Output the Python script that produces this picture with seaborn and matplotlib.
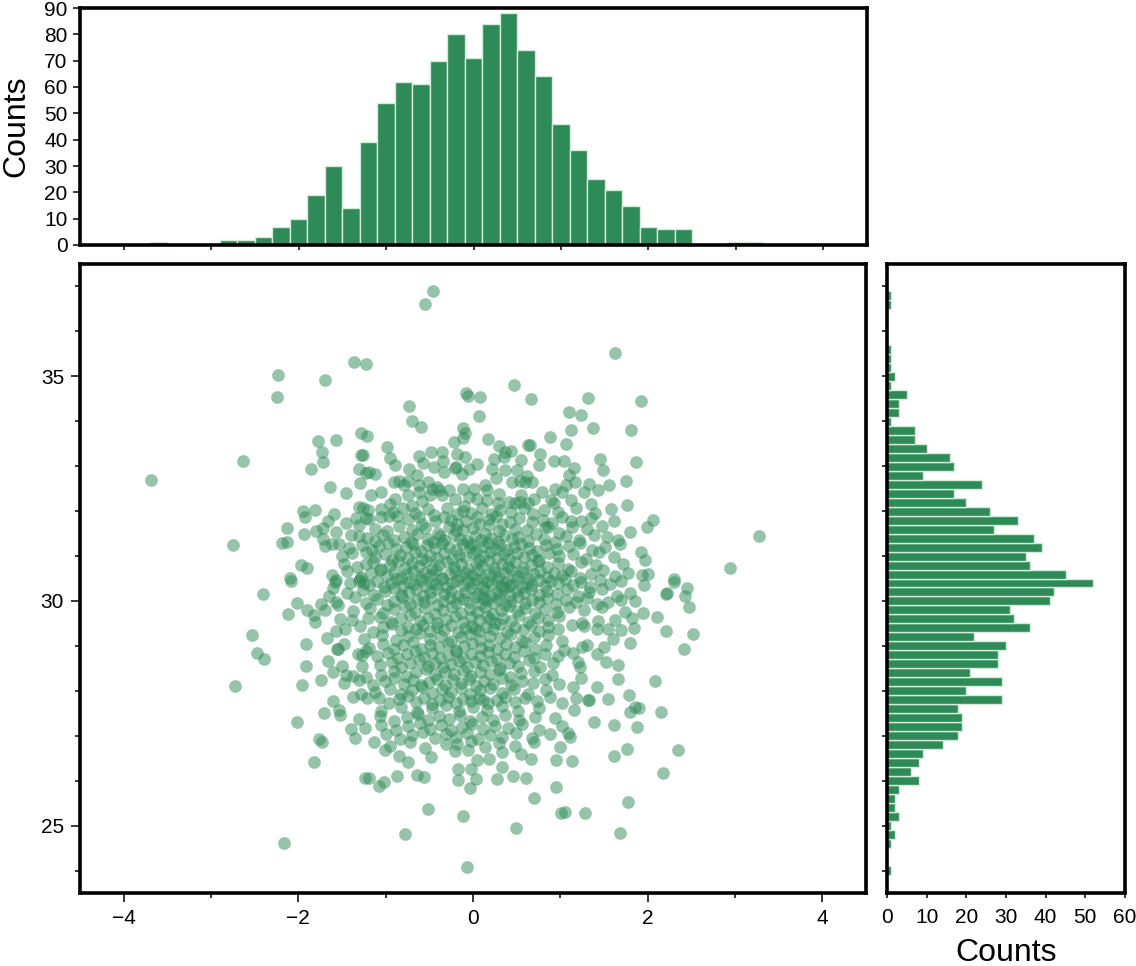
import numpy as np
import pandas as pd
import matplotlib.pyplot as plt
from matplotlib.ticker import MultipleLocator
import seaborn as sns

GREEN = "#2e8b57"
BAR_EDGE = "#d6ebde"

# top histogram: counts per 0.2 bin, bin centres -3.6 .. 3.2
x_counts = [1, 0, 0, 0, 2, 2, 3, 7, 10, 19,
            30, 14, 39, 54, 62, 61, 70, 80, 71, 84,
            88, 74, 64, 46, 36, 25, 21, 15, 7, 6,
            6, 0, 0, 1, 1]

# right histogram: counts per 0.2 bin, bin centres 24.0 .. 36.8
y_counts = [1, 0, 0, 1, 2, 1, 3, 2, 2, 3,
            8, 6, 8, 9, 14, 18, 19, 19, 18, 29,
            20, 29, 21, 28, 28, 30, 22, 36, 32, 31,
            41, 42, 52, 45, 36, 35, 39, 37, 27, 33,
            26, 20, 17, 24, 9, 17, 16, 10, 7, 7,
            1, 3, 3, 5, 1, 2, 1, 1, 1, 0,
            0, 0, 0, 1, 1]

# scatter points (x, y), read band by band from the top
points = [
    (-0.46, 36.89), (-0.55, 36.60), (1.63, 35.52), (-1.36, 35.31), (-1.23, 35.28), (-2.23, 35.03), (-1.69, 34.92), (0.47, 34.80),
    (-2.25, 34.53), (-0.08, 34.62), (-0.06, 34.57), (0.08, 34.55), (1.32, 34.52),
    (0.66, 34.49), (1.92, 34.45), (-0.73, 34.34), (0.07, 34.12), (1.10, 34.20), (1.24, 34.13), (-0.70, 34.01),
    (-0.59, 33.87), (1.12, 33.80), (1.37, 33.85), (1.81, 33.81), (-0.11, 33.84), (-1.28, 33.74), (-0.09, 33.74),
    (-1.21, 33.68), (-0.11, 33.62), (0.17, 33.61), (0.88, 33.66), (-1.78, 33.55), (-1.57, 33.58), (-0.22, 33.53),
    (0.63, 33.48), (0.65, 33.47), (1.07, 33.50), (-0.98, 33.42), (0.30, 33.46), (-0.48, 33.32), (-0.35, 33.32), (-1.73, 33.32), (0.37, 33.31), (0.43, 33.33),
    (-1.28, 33.25), (-1.26, 33.24), (-0.18, 33.27), (-0.09, 33.20), (0.35, 33.20), (0.77, 33.26), (0.93, 33.12), (1.04, 33.11),
    (-2.63, 33.12), (-0.34, 33.12), (0.24, 33.16), (1.87, 33.10), (-0.95, 33.18), (-0.62, 33.22), (0.55, 33.14), (1.45, 33.17),
    (-1.72, 33.09), (-1.86, 32.94), (-1.30, 32.94), (-0.73, 32.94), (-0.57, 33.06), (-0.89, 33.02), (-0.20, 32.99), (-0.21, 32.96),
    (-0.05, 32.94), (0.22, 32.94), (0.37, 32.92), (0.50, 32.91), (1.16, 32.96), (1.49, 32.92), (0.75, 33.03), (-0.45, 32.98), (0.05, 33.05),
    (-1.23, 32.85), (-1.19, 32.87), (-1.12, 32.82), (-0.64, 32.81), (-0.33, 32.88), (-0.13, 32.83), (0.26, 32.73), (1.10, 32.80), (0.62, 32.78),
    (-3.69, 32.69), (-1.29, 32.63), (-1.64, 32.53), (1.75, 32.67), (-0.91, 32.64), (-0.85, 32.68), (-0.79, 32.57), (-0.75, 32.68),
    (-0.62, 32.57), (-0.51, 32.64), (-0.47, 32.50), (-0.41, 32.53), (-0.11, 32.50), (0.01, 32.50), (0.14, 32.57), (0.45, 32.64),
    (0.54, 32.68), (0.60, 32.64), (0.68, 32.64), (0.94, 32.50), (1.07, 32.57), (1.17, 32.64), (1.33, 32.61), (1.56, 32.57),
    (-0.39, 32.46), (0.16, 32.46), (1.43, 32.46), (-0.28, 32.48), (-1.05, 32.43), (-1.17, 32.35), (-0.74, 32.35), (-0.62, 32.43), (-0.49, 32.35),
    (-0.36, 32.35), (-0.05, 32.32), (0.79, 32.43), (1.02, 32.43), (1.27, 32.43), (0.30, 32.38), (-1.45, 32.40), (0.55, 32.36),
    (-0.89, 32.28), (0.05, 32.28), (0.16, 32.24), (0.29, 32.17), (0.41, 32.20), (0.48, 32.18), (0.54, 32.20), (0.63, 32.17), (0.89, 32.24), (0.93, 32.17),
    (1.12, 32.24), (1.76, 32.13), (-1.31, 32.10), (-0.58, 32.22), (-0.21, 32.26), (-0.95, 32.15), (-0.10, 32.12), (0.70, 32.28), (1.35, 32.15), (-0.70, 32.12),
    (-1.95, 32.00), (-1.81, 32.02), (-1.26, 32.06), (-1.20, 32.03), (-1.59, 31.94), (-0.18, 31.94), (-1.05, 32.05), (-0.92, 31.98), (-0.80, 32.08),
    (-0.66, 31.95), (-0.52, 32.04), (-0.45, 31.92), (-0.30, 32.07), (-0.12, 32.00), (-0.02, 31.96), (0.10, 32.06), (0.22, 31.93), (0.31, 32.02),
    (0.44, 31.97), (0.58, 32.08), (0.69, 31.94), (0.81, 32.03), (0.97, 31.99), (1.18, 32.06), (1.40, 31.95), (1.58, 32.04),
    (-1.92, 31.87), (-1.66, 31.77), (-1.34, 31.84), (-1.23, 31.84), (-1.19, 31.82), (-1.05, 31.86), (-0.96, 31.88), (-0.87, 31.88), (-0.74, 31.82),
    (-0.62, 31.86), (-0.58, 31.71), (-0.44, 31.79), (-0.33, 31.86), (-0.18, 31.71), (0.05, 31.86), (0.07, 31.71), (0.33, 31.71), (0.67, 31.75),
    (1.02, 31.86), (1.24, 31.79), (1.62, 31.79), (2.06, 31.81), (-0.08, 31.78), (0.18, 31.82), (0.26, 31.88), (0.42, 31.76), (0.53, 31.84),
    (0.80, 31.80), (0.91, 31.73), (1.12, 31.77), (1.35, 31.85), (-1.45, 31.74), (-0.25, 31.80),
    (-2.13, 31.62), (-1.80, 31.55), (-1.72, 31.62), (-1.57, 31.53), (-1.30, 31.68), (0.18, 31.68), (0.48, 31.60), (0.82, 31.64), (0.86, 31.64),
    (1.13, 31.64), (1.80, 31.53), (1.99, 31.64), (-1.12, 31.60), (-0.98, 31.55), (-0.85, 31.66), (-0.70, 31.58), (-0.55, 31.62), (-0.40, 31.52),
    (-0.28, 31.65), (-0.12, 31.57), (0.00, 31.63), (0.30, 31.55), (0.62, 31.58), (0.98, 31.52), (1.30, 31.60), (1.48, 31.66), (-0.20, 31.58),
    (-1.93, 31.49), (-1.40, 31.46), (-1.21, 31.40), (1.53, 31.42), (3.27, 31.44), (-2.13, 31.31),
    (-1.72, 31.38), (-1.31, 31.45), (-1.12, 31.33), (-1.03, 31.47), (-0.91, 31.36), (-0.79, 31.42), (-0.71, 31.32), (-0.64, 31.48),
    (-0.52, 31.39), (-0.46, 31.31), (-0.38, 31.44), (-0.33, 31.35), (-0.22, 31.47), (-0.15, 31.38), (-0.07, 31.33), (0.02, 31.45),
    (0.09, 31.36), (0.14, 31.49), (0.21, 31.40), (0.29, 31.32), (0.36, 31.46), (0.45, 31.37), (0.51, 31.43), (0.63, 31.34),
    (0.72, 31.48), (0.81, 31.39), (0.94, 31.31), (1.07, 31.44), (1.21, 31.36), (1.39, 31.47), (1.66, 31.35),
    (-2.75, 31.24), (-2.19, 31.29), (-1.69, 31.22), (-1.61, 31.27), (-1.54, 31.27),
    (-1.42, 31.18), (-1.27, 31.25), (-1.16, 31.13), (-1.08, 31.22), (-0.97, 31.28), (-0.88, 31.15), (-0.77, 31.20), (-0.69, 31.27),
    (-0.60, 31.12), (-0.53, 31.24), (-0.44, 31.17), (-0.35, 31.29), (-0.27, 31.21), (-0.19, 31.14), (-0.11, 31.26), (-0.04, 31.19),
    (0.04, 31.12), (0.11, 31.23), (0.17, 31.28), (0.25, 31.16), (0.31, 31.25), (0.39, 31.13), (0.47, 31.21), (0.55, 31.27),
    (0.64, 31.18), (0.73, 31.11), (0.84, 31.24), (0.96, 31.16), (1.10, 31.22), (1.23, 31.29), (1.36, 31.14), (1.51, 31.20), (1.68, 31.26), (-0.02, 31.27),
    (-1.50, 31.00), (-1.38, 31.07), (-1.23, 31.09), (1.92, 31.09), (1.97, 30.92),
    (-1.12, 30.97), (-1.01, 31.05), (-0.93, 30.92), (-0.84, 31.02), (-0.75, 30.95), (-0.66, 31.08), (-0.58, 30.93), (-0.49, 31.01),
    (-0.41, 30.96), (-0.33, 31.07), (-0.24, 30.94), (-0.16, 31.03), (-0.09, 30.98), (0.00, 31.06), (0.07, 30.91), (0.13, 31.00),
    (0.20, 31.08), (0.28, 30.95), (0.35, 31.04), (0.41, 30.93), (0.50, 31.06), (0.58, 30.97), (0.67, 31.02), (0.76, 30.92),
    (0.87, 31.07), (0.99, 30.99), (1.14, 31.04), (1.29, 30.94), (1.44, 31.08), (1.62, 30.98),
    (-1.97, 30.79), (-1.90, 30.74), (-1.23, 30.83), (2.94, 30.74),
    (-1.48, 30.82), (-1.33, 30.75), (-1.15, 30.87), (-1.05, 30.72), (-0.95, 30.80), (-0.86, 30.88), (-0.78, 30.74), (-0.70, 30.84),
    (-0.62, 30.77), (-0.54, 30.89), (-0.47, 30.72), (-0.39, 30.81), (-0.30, 30.86), (-0.22, 30.76), (-0.14, 30.83), (-0.06, 30.71),
    (0.03, 30.85), (0.10, 30.78), (0.18, 30.88), (0.24, 30.73), (0.33, 30.82), (0.40, 30.76), (0.48, 30.87), (0.57, 30.74),
    (0.66, 30.81), (0.74, 30.89), (0.85, 30.75), (0.97, 30.84), (1.09, 30.72), (1.24, 30.86), (1.41, 30.79), (1.72, 30.83),
    (-2.09, 30.51), (2.00, 30.61), (1.93, 30.57), (2.30, 30.50),
    (-1.62, 30.58), (-1.44, 30.66), (-1.28, 30.53), (-1.17, 30.62), (-1.07, 30.69), (-0.98, 30.55), (-0.90, 30.64), (-0.83, 30.52),
    (-0.76, 30.60), (-0.69, 30.67), (-0.61, 30.54), (-0.55, 30.63), (-0.48, 30.57), (-0.42, 30.68), (-0.35, 30.51), (-0.28, 30.61),
    (-0.21, 30.66), (-0.15, 30.55), (-0.08, 30.63), (-0.01, 30.58), (0.06, 30.69), (0.12, 30.52), (0.18, 30.60), (0.24, 30.65),
    (0.30, 30.54), (0.37, 30.62), (0.43, 30.68), (0.50, 30.56), (0.56, 30.64), (0.63, 30.51), (0.70, 30.59), (0.77, 30.67),
    (0.85, 30.53), (0.93, 30.62), (1.02, 30.57), (1.12, 30.66), (1.23, 30.52), (1.35, 30.61), (1.49, 30.68), (1.63, 30.55), (1.78, 30.63),
    (-1.57, 30.46), (-1.29, 30.49), (-2.08, 30.44), (-1.58, 30.42), (-1.41, 30.39), (-1.30, 30.44), (1.96, 30.36), (2.30, 30.42),
    (-1.19, 30.36), (-1.10, 30.45), (-1.02, 30.32), (-0.94, 30.41), (-0.87, 30.48), (-0.80, 30.34), (-0.73, 30.43), (-0.67, 30.38),
    (-0.60, 30.47), (-0.54, 30.33), (-0.48, 30.42), (-0.42, 30.37), (-0.36, 30.49), (-0.30, 30.31), (-0.24, 30.40), (-0.18, 30.46),
    (-0.12, 30.35), (-0.06, 30.44), (0.00, 30.39), (0.05, 30.48), (0.11, 30.32), (0.16, 30.42), (0.22, 30.37), (0.27, 30.47),
    (0.33, 30.34), (0.38, 30.43), (0.44, 30.38), (0.50, 30.49), (0.56, 30.31), (0.62, 30.41), (0.68, 30.36), (0.75, 30.46),
    (0.82, 30.33), (0.89, 30.44), (0.97, 30.39), (1.05, 30.48), (1.14, 30.35), (1.24, 30.42), (1.34, 30.32), (1.45, 30.46),
    (1.57, 30.38), (1.70, 30.44), (-1.25, 30.41), (0.41, 30.33),
    (-2.40, 30.15), (-1.65, 30.12), (-1.60, 30.28), (2.21, 30.16), (2.22, 30.17), (2.45, 30.29), (2.43, 30.12), (1.65, 30.11),
    (-1.44, 30.17), (-1.26, 30.25), (-1.13, 30.13), (-1.01, 30.22), (-0.91, 30.28), (-0.82, 30.14), (-0.73, 30.21), (-0.65, 30.27),
    (-0.57, 30.12), (-0.49, 30.19), (-0.41, 30.26), (-0.33, 30.15), (-0.25, 30.23), (-0.17, 30.11), (-0.09, 30.20), (-0.02, 30.28),
    (0.06, 30.16), (0.13, 30.24), (0.20, 30.12), (0.28, 30.21), (0.35, 30.29), (0.42, 30.14), (0.50, 30.22), (0.58, 30.18),
    (0.66, 30.27), (0.75, 30.13), (0.85, 30.23), (0.96, 30.16), (1.08, 30.26), (1.20, 30.12), (1.33, 30.21), (1.48, 30.27), (1.80, 30.18), (0.31, 30.15),
    (-2.01, 29.96), (-1.74, 29.94), (-1.57, 29.98), (-1.55, 29.90), (-1.35, 30.09), (1.55, 29.98),
    (-1.22, 29.96), (-1.10, 30.04), (-0.99, 29.92), (-0.90, 30.01), (-0.81, 30.08), (-0.72, 29.94), (-0.64, 30.03), (-0.56, 29.97),
    (-0.48, 30.06), (-0.41, 29.91), (-0.34, 30.00), (-0.26, 30.07), (-0.19, 29.95), (-0.12, 30.04), (-0.05, 29.98), (0.02, 30.09),
    (0.09, 29.93), (0.16, 30.02), (0.23, 29.96), (0.30, 30.05), (0.37, 29.92), (0.44, 30.01), (0.51, 30.08), (0.59, 29.95),
    (0.67, 30.03), (0.76, 29.98), (0.85, 30.07), (0.95, 29.93), (1.06, 30.02), (1.18, 29.97), (1.31, 30.06), (1.42, 29.94), (1.69, 30.03), (1.86, 29.99), (0.12, 30.06),
    (-1.90, 29.81), (-1.69, 29.81), (2.47, 29.86), (1.48, 29.87), (1.74, 29.76), (-2.12, 29.71),
    (-1.37, 29.78), (-1.18, 29.85), (-1.03, 29.73), (-0.90, 29.82), (-0.78, 29.88), (-0.66, 29.75), (-0.55, 29.84), (-0.44, 29.72),
    (-0.34, 29.80), (-0.24, 29.87), (-0.14, 29.74), (-0.04, 29.83), (0.05, 29.76), (0.14, 29.86), (0.23, 29.71), (0.32, 29.81),
    (0.41, 29.88), (0.50, 29.77), (0.60, 29.84), (0.71, 29.73), (0.83, 29.82), (0.96, 29.76), (1.10, 29.87), (1.27, 29.79), (1.95, 29.74),
    (-1.82, 29.68), (-1.81, 29.53), (-1.52, 29.59), (-1.20, 29.62), (2.11, 29.64), (1.63, 29.57), (1.25, 29.50),
    (-1.38, 29.57), (-1.06, 29.65), (-0.94, 29.53), (-0.83, 29.62), (-0.72, 29.68), (-0.61, 29.55), (-0.51, 29.63), (-0.41, 29.52),
    (-0.31, 29.60), (-0.21, 29.67), (-0.11, 29.54), (-0.02, 29.64), (0.07, 29.58), (0.16, 29.66), (0.25, 29.51), (0.34, 29.61),
    (0.43, 29.56), (0.53, 29.68), (0.63, 29.53), (0.74, 29.62), (0.86, 29.57), (0.99, 29.66), (1.43, 29.55), (1.82, 29.63), (0.20, 29.60),
    (-1.57, 29.34), (1.55, 29.38), (1.69, 29.35), (1.42, 29.38), (1.13, 29.46), (2.21, 29.33),
    (-1.46, 29.37), (-1.29, 29.44), (-1.15, 29.32), (-1.03, 29.41), (-0.93, 29.48), (-0.83, 29.35), (-0.74, 29.43), (-0.65, 29.38),
    (-0.57, 29.47), (-0.49, 29.33), (-0.41, 29.42), (-0.33, 29.36), (-0.25, 29.46), (-0.17, 29.31), (-0.09, 29.40), (-0.01, 29.45),
    (0.07, 29.34), (0.15, 29.43), (0.23, 29.38), (0.31, 29.48), (0.39, 29.32), (0.48, 29.41), (0.57, 29.36), (0.66, 29.46),
    (0.76, 29.33), (0.86, 29.42), (0.97, 29.37), (1.27, 29.45), (1.84, 29.40), (0.02, 29.37),
    (-2.53, 29.25), (-1.67, 29.18), (2.52, 29.27), (1.02, 29.12),
    (-1.25, 29.16), (-1.04, 29.24), (-0.88, 29.13), (-0.74, 29.21), (-0.61, 29.28), (-0.49, 29.15), (-0.37, 29.22), (-0.25, 29.12),
    (-0.14, 29.19), (-0.03, 29.27), (0.08, 29.14), (0.19, 29.23), (0.31, 29.17), (0.43, 29.26), (0.56, 29.11), (0.70, 29.20), (0.86, 29.25), (1.60, 29.16),
    (-1.91, 29.04), (-1.56, 28.92), (-1.55, 28.93), (-1.48, 29.05), (1.04, 28.91), (1.25, 28.98), (1.30, 29.03), (2.42, 28.92),
    (-1.19, 28.96), (-1.03, 29.04), (-0.91, 28.92), (-0.80, 29.01), (-0.69, 29.08), (-0.59, 28.94), (-0.49, 29.03), (-0.39, 28.97),
    (-0.29, 29.06), (-0.20, 28.91), (-0.10, 29.00), (-0.01, 29.07), (0.09, 28.95), (0.18, 29.02), (0.28, 28.93), (0.38, 29.05),
    (0.48, 28.98), (0.59, 29.09), (0.71, 28.94), (0.84, 29.03), (1.50, 28.97), (1.80, 29.06),
    (-2.47, 28.85), (-2.39, 28.71), (-1.32, 28.82), (-1.27, 28.80), (-1.23, 28.88), (1.42, 28.83),
    (-1.10, 28.77), (-0.97, 28.85), (-0.86, 28.73), (-0.76, 28.82), (-0.66, 28.88), (-0.56, 28.75), (-0.47, 28.84), (-0.38, 28.72),
    (-0.29, 28.80), (-0.20, 28.87), (-0.11, 28.74), (-0.02, 28.83), (0.08, 28.78), (0.17, 28.86), (0.27, 28.71), (0.37, 28.81),
    (0.47, 28.76), (0.58, 28.88), (0.70, 28.73), (0.83, 28.82), (0.97, 28.77), (1.15, 28.85),
    (-1.66, 28.66), (-1.50, 28.55), (-1.27, 28.55), (-1.91, 28.56), (1.52, 28.64), (1.20, 28.64), (1.22, 28.53),
    (-1.06, 28.57), (-0.93, 28.65), (-0.82, 28.53), (-0.72, 28.62), (-0.62, 28.68), (-0.52, 28.55), (-0.43, 28.63), (-0.34, 28.52),
    (-0.25, 28.60), (-0.16, 28.67), (-0.07, 28.54), (0.02, 28.64), (0.11, 28.58), (0.21, 28.66), (0.31, 28.51), (0.41, 28.61),
    (0.52, 28.56), (0.64, 28.68), (0.77, 28.53), (0.92, 28.62), (1.66, 28.57),
    (-1.60, 28.43), (-1.45, 28.35), (-1.37, 28.33), (-1.23, 28.31),
    (-1.05, 28.36), (-0.90, 28.44), (-0.77, 28.32), (-0.65, 28.41), (-0.54, 28.48), (-0.43, 28.35), (-0.32, 28.43), (-0.22, 28.38),
    (-0.12, 28.47), (-0.02, 28.33), (0.08, 28.42), (0.19, 28.37), (0.30, 28.46), (0.42, 28.31), (0.55, 28.40), (0.70, 28.45), (0.90, 28.35),
    (-2.72, 28.11), (-1.74, 28.24), (-1.96, 28.12), (1.24, 28.29), (1.66, 28.26),
    (-1.48, 28.18), (-1.30, 28.25), (-1.14, 28.13), (-1.01, 28.22), (-0.90, 28.28), (-0.79, 28.15), (-0.69, 28.23), (-0.59, 28.12),
    (-0.50, 28.20), (-0.41, 28.27), (-0.32, 28.14), (-0.23, 28.24), (-0.14, 28.17), (-0.05, 28.26), (0.04, 28.11), (0.13, 28.21),
    (0.23, 28.16), (0.33, 28.28), (0.44, 28.13), (0.56, 28.22), (0.69, 28.18), (0.83, 28.27), (0.99, 28.15), (2.08, 28.22),
    (-1.28, 27.92), (1.42, 28.09), (1.14, 28.09), (1.79, 27.91),
    (-1.12, 27.97), (-0.95, 28.05), (-0.82, 27.93), (-0.70, 28.02), (-0.58, 28.08), (-0.47, 27.95), (-0.36, 28.03), (-0.25, 27.98),
    (-0.14, 28.07), (-0.03, 27.92), (0.08, 28.01), (0.20, 28.06), (0.33, 27.96), (0.47, 28.04), (0.63, 27.94), (0.84, 28.02),
    (-1.37, 27.87), (-1.21, 27.83), (1.18, 27.85), (1.32, 27.79), (1.33, 27.80),
    (-1.60, 27.77), (-1.08, 27.84), (-0.96, 27.72), (-0.85, 27.81), (-0.75, 27.88), (-0.65, 27.75), (-0.56, 27.83), (-0.47, 27.71),
    (-0.38, 27.79), (-0.29, 27.86), (-0.20, 27.74), (-0.11, 27.82), (-0.02, 27.77), (0.07, 27.85), (0.17, 27.72), (0.27, 27.80),
    (0.37, 27.87), (0.48, 27.75), (0.60, 27.83), (0.73, 27.78), (0.88, 27.86), (1.02, 27.73), (1.55, 27.81), (0.12, 27.79),
    (-1.53, 27.57), (-1.71, 27.51), (1.80, 27.53), (1.86, 27.64), (1.16, 27.57), (1.90, 27.61), (2.15, 27.53),
    (-1.05, 27.56), (-0.83, 27.64), (-0.64, 27.53), (-0.47, 27.61), (-0.31, 27.68), (-0.16, 27.55), (0.00, 27.63), (0.16, 27.58),
    (0.33, 27.66), (0.52, 27.54), (0.76, 27.62),
    (-1.52, 27.46), (-2.01, 27.31), (1.38, 27.31),
    (-1.30, 27.37), (-1.06, 27.44), (-0.90, 27.33), (-0.76, 27.41), (-0.63, 27.48), (-0.51, 27.35), (-0.39, 27.43), (-0.27, 27.38),
    (-0.15, 27.46), (-0.03, 27.32), (0.10, 27.41), (0.23, 27.36), (0.37, 27.47), (0.53, 27.34), (0.71, 27.42), (0.94, 27.39),
    (-1.24, 27.18), (1.61, 27.25), (1.88, 27.20),
    (-1.40, 27.16), (-1.05, 27.24), (-0.88, 27.13), (-0.74, 27.21), (-0.61, 27.28), (-0.49, 27.15), (-0.37, 27.23), (-0.25, 27.12),
    (-0.13, 27.19), (-0.01, 27.27), (0.12, 27.14), (0.25, 27.22), (0.40, 27.17), (0.56, 27.26), (0.76, 27.13), (1.02, 27.21),
    (-1.76, 26.92), (1.09, 27.07), (1.11, 26.98),
    (-1.35, 26.96), (-1.00, 27.04), (-0.84, 26.92), (-0.70, 27.01), (-0.57, 27.08), (-0.44, 26.95), (-0.31, 27.03), (-0.19, 26.97),
    (-0.07, 27.06), (0.06, 26.93), (0.19, 27.02), (0.33, 26.98), (0.49, 27.07), (0.67, 26.94), (0.88, 27.03),
    (-1.73, 26.87), (-1.13, 26.87), (-0.31, 26.81), (1.76, 26.71),
    (-0.95, 26.77), (-0.72, 26.85), (-0.55, 26.73), (-0.18, 26.82), (-0.02, 26.88), (0.14, 26.75), (0.30, 26.84), (0.48, 26.78), (0.70, 26.86), (1.00, 26.74),
    (2.35, 26.68), (1.61, 26.56), (-0.48, 26.53), (-0.21, 26.66), (0.33, 26.64), (-1.01, 26.69), (-0.06, 26.69), (0.55, 26.60), (-0.85, 26.55),
    (0.33, 26.31), (1.13, 26.44), (0.95, 26.46), (0.66, 26.48), (0.05, 26.46), (-0.74, 26.41), (0.18, 26.49), (-1.82, 26.42),
    (0.46, 26.11), (-0.87, 26.11), (-0.64, 26.12), (2.18, 26.17), (-0.02, 26.26), (-0.17, 26.26),
    (-1.24, 26.07), (0.28, 26.03), (0.61, 26.07), (-0.17, 26.01), (0.04, 26.03), (-1.02, 25.98), (-1.19, 26.05), (-0.56, 26.09),
    (0.95, 25.87), (-0.04, 25.83), (-1.08, 25.89),
    (1.77, 25.53), (0.70, 25.62), (-0.51, 25.38), (1.05, 25.31),
    (-0.12, 25.21), (1.01, 25.27), (1.28, 25.27), (0.49, 24.94),
    (-0.78, 24.81), (1.68, 24.84), (-2.16, 24.62), (-0.07, 24.08),
]

x_centres = np.round(-3.6 + 0.2 * np.arange(len(x_counts)), 1)
y_centres = np.round(24.0 + 0.2 * np.arange(len(y_counts)), 1)
x_edges = np.append(x_centres - 0.1, x_centres[-1] + 0.1)
y_edges = np.append(y_centres - 0.1, y_centres[-1] + 0.1)

df = pd.DataFrame(points, columns=["x", "y"])
top_df = pd.DataFrame({"centre": x_centres, "count": x_counts})
right_df = pd.DataFrame({"centre": y_centres, "count": y_counts})

sns.set_style("ticks")
plt.rcParams["font.family"] = ["Liberation Sans", "DejaVu Sans"]
plt.rcParams["text.color"] = "black"
plt.rcParams["axes.labelcolor"] = "black"
plt.rcParams["xtick.color"] = "black"
plt.rcParams["ytick.color"] = "black"

W, H = 1136, 966
fig = plt.figure(figsize=(W / 100, H / 100), dpi=100)
ax = fig.add_axes([80 / W, 73 / H, 786 / W, 629 / H])
ax_top = fig.add_axes([80 / W, 721 / H, 787 / W, 237 / H])
ax_right = fig.add_axes([887 / W, 73 / H, 238 / W, 629 / H])

sns.scatterplot(data=df, x="x", y="y", ax=ax, color=GREEN, alpha=0.5,
                s=84, linewidth=0)
sns.histplot(data=top_df, x="centre", weights="count", bins=list(x_edges),
             ax=ax_top, color=GREEN, alpha=1, edgecolor=BAR_EDGE, linewidth=1)
sns.histplot(data=right_df, y="centre", weights="count", bins=list(y_edges),
             ax=ax_right, color=GREEN, alpha=1, edgecolor=BAR_EDGE, linewidth=1)

ax.set_xlim(-4.5, 4.5)
ax.set_ylim(23.5, 37.5)
ax_top.set_xlim(-4.5, 4.5)
ax_top.set_ylim(0, 90)
ax_right.set_ylim(23.5, 37.5)
ax_right.set_xlim(0, 60)

ax.xaxis.set_major_locator(MultipleLocator(2))
ax.xaxis.set_minor_locator(MultipleLocator(1))
ax.yaxis.set_major_locator(MultipleLocator(5))
ax.yaxis.set_minor_locator(MultipleLocator(1))
ax_top.xaxis.set_major_locator(MultipleLocator(1))
ax_top.yaxis.set_major_locator(MultipleLocator(10))
ax_right.yaxis.set_major_locator(MultipleLocator(1))
ax_right.xaxis.set_major_locator(MultipleLocator(10))

for a in (ax, ax_top, ax_right):
    a.set_xlabel("")
    a.set_ylabel("")
    for sp in a.spines.values():
        sp.set_visible(True)
        sp.set_linewidth(2.6)
        sp.set_color("black")
    a.tick_params(which="both", direction="out", width=1.1, color="black",
                  labelcolor="black", labelsize=15, top=False, right=False,
                  bottom=True, left=True, pad=5)

ax.tick_params(which="major", length=6.5)
ax.tick_params(which="minor", length=3.5)
ax_top.tick_params(axis="x", length=3.5, labelbottom=False)
ax_top.tick_params(axis="y", length=5, pad=4)
ax_right.tick_params(axis="y", length=3.5, labelleft=False)
ax_right.tick_params(axis="x", length=3.5, pad=7)

ax_top.set_ylabel("Counts", fontsize=23, labelpad=9)
ax_right.set_xlabel("Counts", fontsize=23, labelpad=8)

fig.savefig("out.png", dpi=100)
